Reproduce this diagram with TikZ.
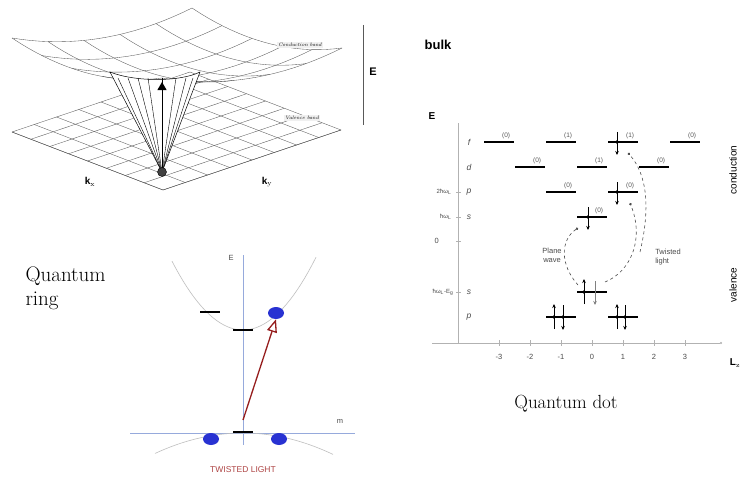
\documentclass[tikz,border=0pt]{standalone}
\usepackage{fontspec}
\newfontfamily\arial{Liberation Sans}
\usetikzlibrary{arrows.meta,calc,shapes.geometric}
\definecolor{dred}{RGB}{150,30,30}
\definecolor{lred}{RGB}{175,70,70}
\definecolor{ablue}{RGB}{150,170,220}
\definecolor{dotblue}{RGB}{40,50,210}
\tikzset{
 bar/.style={line width=1.6pt},
 qn/.style={font=\arial\fontsize{6.5}{7}\selectfont, text=gray!70!black, anchor=south west, inner sep=1pt},
 lab/.style={font=\arial\fontsize{7.5}{9}\selectfont, text=gray!60!black, inner sep=1pt},
 elab/.style={font=\arial\fontsize{6}{7}\selectfont, text=gray!60!black, inner sep=0.5pt, anchor=east},
 spin/.style={-{Stealth[length=4pt,width=3.5pt]}, line width=0.8pt},
 dashc/.style={dashed, gray!60!black, -{Circle[length=2.5pt]}, line width=0.6pt},
 mesh/.style={gray!70!black, line width=0.35pt},
}
\begin{document}
\begin{tikzpicture}[x=1pt,y=-1pt]
\useasboundingbox[fill=white] (0,0) rectangle (751,489);
% ---------- top-left 3D ----------
\coordinate (L) at (12,132); \coordinate (F) at (163,190); \coordinate (B) at (190,72);
\foreach \i in {0,0.125,...,1.01}{
  \draw[mesh] ($(L)!\i!(F)$) -- ++(178,-60);
  \draw[mesh] ($(L)!\i!(B)$) -- ++(151,58);
}
\draw[gray!70!black] (L) -- (F) -- ++(178,-60);
\foreach \t in {0,0.2,...,1.01}{
  \draw[mesh] plot[domain=0:1,samples=20] ({162-150*\x+180*\t},{78+20*\x+30*\t-60*\x*\x-60*\t*\t});
  \draw[mesh] plot[domain=0:1,samples=20] ({162-150*\t+180*\x},{78+20*\t+30*\x-60*\t*\t-60*\x*\x});
}
\filldraw[fill=white, draw=black, line width=0.5pt] (162,172) -- (110,72) .. controls (135,82) and (180,82) .. (200,72) -- cycle;
\foreach \x in {118,128,138,148,162,176,186,193}{ \draw[line width=0.4pt] (162,172) -- (\x,78); }
\draw[line width=0.5pt] (162,172) -- (162,92);
\node[fill=black, isosceles triangle, rotate=90, inner sep=2.2pt, isosceles triangle apex angle=60] (tri) at (162,88) {};
\node[circle, fill=black!75, draw=black, minimum size=9pt, inner sep=0pt] (apex) at (162,172) {};
\draw[gray!70!black] (363,25) -- (363,125);
\node[font=\arial\bfseries\fontsize{11}{12}\selectfont] (E1) at (373,72) {E};
\node[font=\arial\bfseries\fontsize{10}{12}\selectfont] (kx) at (90,182) {k$_\mathrm{x}$};
\node[font=\arial\bfseries\fontsize{10}{12}\selectfont] (ky) at (267,182) {k$_\mathrm{y}$};
\node[fill=gray!12, font=\itshape\fontsize{5}{6}\selectfont, inner sep=1pt] (cb) at (300,45) {Conduction band};
\node[fill=gray!12, font=\itshape\fontsize{5}{6}\selectfont, inner sep=1pt] (vb) at (302,118) {Valence band};
\node[font=\arial\bfseries\fontsize{13}{14}\selectfont] (bulk) at (438,45) {bulk};
% ---------- bottom-left ring ----------
\node[align=left, anchor=west, font=\fontsize{21}{24}\selectfont] (qr) at (22,288) {Quantum\\ring};
\draw[ablue, line width=0.6pt] (243,255) -- (243,445);
\draw[ablue, line width=0.6pt] (130,433) -- (355,433);
\node[lab] (Er) at (231,258) {E};
\node[lab] (m) at (340,421) {m};
\draw[gray!50, line width=0.6pt] plot[domain=172:316,samples=40] (\x,{330-65*((\x-243)/69)^2});
\draw[gray!50, line width=0.6pt] plot[domain=155:333,samples=40] (\x,{433+20*((\x-243)/87)^2});
\draw[bar] (200,312) -- (220,312);
\draw[bar] (233,330) -- (253,330);
\draw[bar] (233,432) -- (253,432);
\foreach \n/\p in {d1/{(276,313)}, d2/{(211,439)}, d3/{(279,439)}}{
  \node[ellipse, fill=dotblue, minimum width=16pt, minimum height=12pt, inner sep=0pt] (\n) at \p {};
}
\coordinate (ts) at (243,420);
\draw[dred, line width=1.3pt, -{Triangle[open, length=13pt, width=10pt]}] (ts) -- (d1.south);
\node[font=\arial\fontsize{8.5}{9}\selectfont, text=lred] (tl) at (243,470) {TWISTED LIGHT};
% ---------- right plot ----------
\draw[gray!60, line width=0.6pt] (458,343) -- (458,123);
\draw[gray!60, line width=0.6pt, -{Circle[length=2pt]}] (432,343) -- (722,343);
\node[font=\arial\bfseries\fontsize{10}{12}\selectfont] (Er2) at (432,116) {E};
\node[font=\arial\bfseries\fontsize{10}{11}\selectfont] (Lz) at (735,363) {L$_\mathrm{z}$};
\foreach \L in {-3,...,3}{
  \draw[gray!60] ({592+31*\L},340) -- ({592+31*\L},346);
  \node[lab] at ({592+31*\L},357) {\L};
}
\foreach \y in {192,217,241,292}{ \draw[gray!60] (456,\y) -- (461,\y); }
\foreach \y/\t in {142/f,167/d,192/p,217/s,292/s,317/p}{ \node[lab, font=\arial\itshape\fontsize{8.5}{9}\selectfont] at (469,\y) {\t}; }
\node[elab] at (452,192) {2ħω\textsubscript{L}};
\node[elab] at (452,217) {ħω\textsubscript{L}};
\node[lab, anchor=east] at (440,241) {0};
\node[elab] at (454,292) {ħω\textsubscript{L}-E\textsubscript{g}};
% levels
\foreach \L/\y/\q in {-3/142/0,-1/142/1,1/142/1,3/142/0,-2/167/0,0/167/1,2/167/0,-1/192/0,1/192/0,0/217/0}{
  \draw[bar] ({592+31*\L-15},\y) -- ({592+31*\L+15},\y);
  \node[qn] at ({592+31*\L+2},{\y-2}) {(\q)};
}
\foreach \L/\y in {0/292,-1/317,1/317}{ \draw[bar] ({592+31*\L-15},\y) -- ({592+31*\L+15},\y); }
% spins
\foreach \x/\y in {617/142,617/192,588/217}{
  \draw[spin] (\x,{\y-10}) -- (\x,{\y+13});
  \fill (\x,\y) circle (1.8pt);
}
\draw[spin] (584,304) -- (584,279); \fill (584,292) circle (1.8pt);
\draw[spin, gray] (595,281) -- (595,305);
\foreach \xa/\xb in {554/563,617/625}{
  \draw[spin] (\xa,329) -- (\xa,304); \fill (\xa,317) circle (1.8pt);
  \draw[spin] (\xb,305) -- (\xb,330); \fill (\xb,317) circle (1.8pt);
}
\coordinate (vs) at (578,285); \coordinate (vs2) at (605,282);
\draw[dashc] (vs) .. controls (560,265) and (560,240) .. (578,228);
\draw[dashc] (vs2) .. controls (630,272) and (645,240) .. (630,203);
\draw[dashc] (640,252) .. controls (650,210) and (648,175) .. (628,153);
\node[lab, align=center] (pw) at (552,255) {Plane\\wave};
\node[lab, align=left] (tw) at (668,257) {Twisted\\light};
\node[font=\arial\fontsize{10}{11}\selectfont, rotate=90] (cond) at (733,170) {conduction};
\node[font=\arial\fontsize{10}{11}\selectfont, rotate=90] (val) at (733,285) {valence};
\node[font=\fontsize{19}{22}\selectfont] (qd) at (566,404) {Quantum dot};
\end{tikzpicture}
\end{document}
